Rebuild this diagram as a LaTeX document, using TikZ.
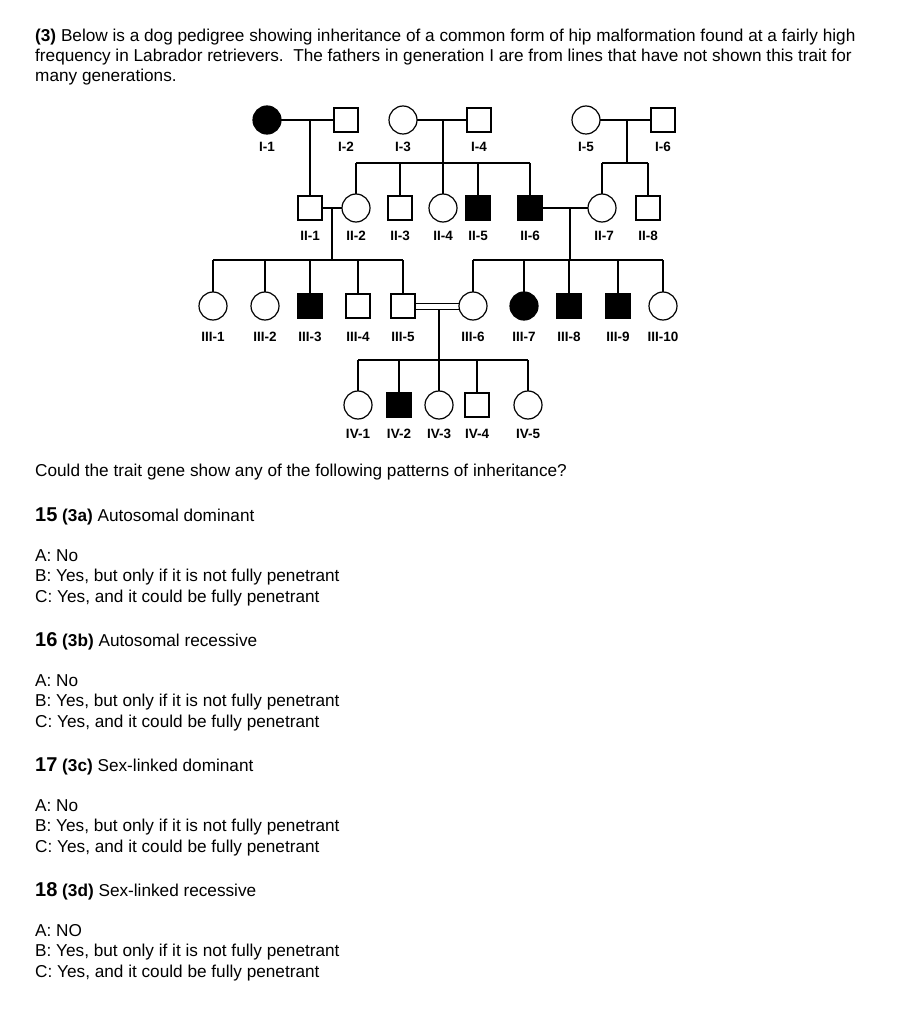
\documentclass[tikz,border=0pt]{standalone}
\usepackage{fontspec}
\setmainfont{Liberation Sans}
\begin{document}
\begin{tikzpicture}[x=1pt,y=-1pt,
 m/.style={draw,line width=1.2pt,minimum size=24pt,inner sep=0pt,fill=white},
 f/.style={draw,line width=1.2pt,circle,minimum size=28pt,inner sep=0pt,fill=white},
 aff/.style={fill=black},
 lab/.style={font=\fontsize{13.5}{15}\selectfont\bfseries},
 ln/.style={line width=1.2pt},
 txt/.style={anchor=base west,inner sep=0pt,font=\fontsize{17.2}{20.5}\selectfont}]
\useasboundingbox (0,0) rectangle (907,1024);
% lines first
\draw[ln] (267,120) -- (346,120); \draw[ln] (310,120) -- (310,208);
\draw[ln] (403,120) -- (479,120); \draw[ln] (443,120) -- (443,163);
\draw[ln] (586,120) -- (663,120); \draw[ln] (627,120) -- (627,163);
\draw[ln] (356,163) -- (530,163);
\foreach \x in {356,400,443,478,530} \draw[ln] (\x,163) -- (\x,208);
\draw[ln] (602,163) -- (648,163);
\foreach \x in {602,648} \draw[ln] (\x,163) -- (\x,208);
\draw[ln] (310,208) -- (356,208); \draw[ln] (332,208) -- (332,260);
\draw[ln] (530,208) -- (602,208); \draw[ln] (570,208) -- (570,260);
\draw[ln] (213,260) -- (403,260);
\foreach \x in {213,265,310,358,403} \draw[ln] (\x,260) -- (\x,306);
\draw[ln] (473,260) -- (663,260);
\foreach \x in {473,524,569,618,663} \draw[ln] (\x,260) -- (\x,306);
\draw[line width=1pt] (403,303) -- (473,303); \draw[line width=1pt] (403,309) -- (473,309);
\draw[ln] (439,309) -- (439,360);
\draw[ln] (358,360) -- (528,360);
\foreach \x in {358,399,439,477,528} \draw[ln] (\x,360) -- (\x,405);
% gen I
\node[f,aff] (I1) at (267,120) {}; \node[m] (I2) at (346,120) {};
\node[f] (I3) at (403,120) {}; \node[m] (I4) at (479,120) {};
\node[f] (I5) at (586,120) {}; \node[m] (I6) at (663,120) {};
\foreach \x/\t in {267/I-1,346/I-2,403/I-3,479/I-4,586/I-5,663/I-6} \node[lab] at (\x,147) {\t};
% gen II
\node[m] (II1) at (310,208) {}; \node[f] (II2) at (356,208) {};
\node[m] (II3) at (400,208) {}; \node[f] (II4) at (443,208) {};
\node[m,aff] (II5) at (478,208) {}; \node[m,aff] (II6) at (530,208) {};
\node[f] (II7) at (602,208) {}; \node[m] (II8) at (648,208) {};
\foreach \x/\t in {310/II-1,356/II-2,400/II-3,443/II-4,478/II-5,530/II-6,604/II-7,648/II-8} \node[lab] at (\x,236) {\t};
% gen III
\node[f] (III1) at (213,306) {}; \node[f] (III2) at (265,306) {};
\node[m,aff] (III3) at (310,306) {}; \node[m] (III4) at (358,306) {};
\node[m] (III5) at (403,306) {}; \node[f] (III6) at (473,306) {};
\node[f,aff] (III7) at (524,306) {}; \node[m,aff] (III8) at (569,306) {};
\node[m,aff] (III9) at (618,306) {}; \node[f] (III10) at (663,306) {};
\foreach \x/\t in {213/III-1,265/III-2,310/III-3,358/III-4,403/III-5,473/III-6,524/III-7,569/III-8,618/III-9,663/III-10} \node[lab] at (\x,337) {\t};
% gen IV
\node[f] (IV1) at (358,405) {}; \node[m,aff] (IV2) at (399,405) {};
\node[f] (IV3) at (439,405) {}; \node[m] (IV4) at (477,405) {};
\node[f] (IV5) at (528,405) {};
\foreach \x/\t in {358/IV-1,399/IV-2,439/IV-3,477/IV-4,528/IV-5} \node[lab] at (\x,434) {\t};
% text
\node[txt] (h1) at (35,42) {\textbf{(3)} Below is a dog pedigree showing inheritance of a common form of hip malformation found at a fairly high};
\node[txt] (h2) at (35,62) {frequency in Labrador retrievers.\ \ The fathers in generation I are from lines that have not shown this trait for};
\node[txt] (h3) at (35,82) {many generations.};
\node[txt] (q) at (35,476) {Could the trait gene show any of the following patterns of inheritance?};
\foreach \y/\n/\s/\t in {521/15/3a/Autosomal dominant,646/16/3b/Autosomal recessive,771/17/3c/Sex-linked dominant,896/18/3d/Sex-linked recessive}
  \node[txt] at (35,\y) {{\fontsize{20}{20}\selectfont\bfseries \n} \textbf{(\s)} \t};
\foreach \y/\a in {561/No,686/No,811/No,936/NO}{
  \node[txt] at (35,\y) {A: \a};
  \node[txt] at (35,\y+20.5) {B: Yes, but only if it is not fully penetrant};
  \node[txt] at (35,\y+41) {C: Yes, and it could be fully penetrant};}
\end{tikzpicture}
\end{document}
